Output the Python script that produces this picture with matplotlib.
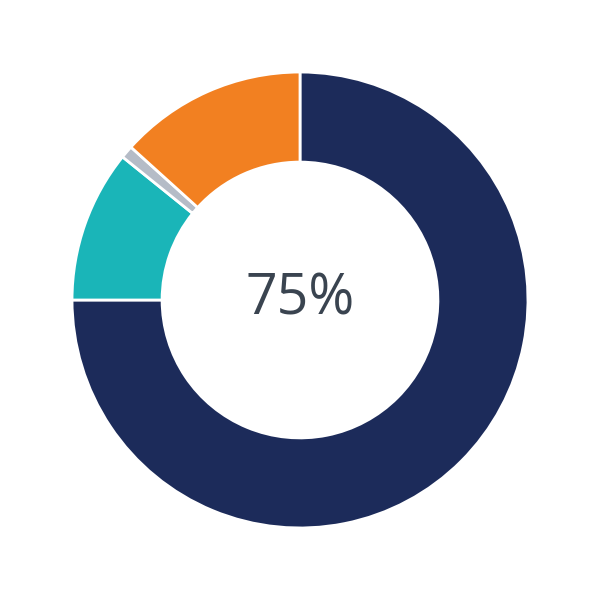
import matplotlib.pyplot as plt

labels = ["Navy", "Teal", "Grey", "Orange"]
values = [75, 10.8, 0.9, 13.3]
colors = ["#1c2b5a", "#1ab5b8", "#b5bcc7", "#f28021"]
center_label = "75%"

fig = plt.figure(figsize=(6, 6), dpi=100)
ax = fig.add_axes([0, 0, 1, 1])
ax.pie(values, colors=colors, startangle=90, counterclock=False,
       radius=1.0,
       wedgeprops=dict(width=0.395, edgecolor="white", linewidth=2))
ax.text(0, 0.0, center_label, ha="center", va="center",
        fontsize=40, color="#3a4450", family=["Open Sans", "DejaVu Sans"])
ax.set_xlim(-1.316, 1.316)
ax.set_ylim(-1.316, 1.316)
ax.set_aspect("equal")
ax.axis("off")
fig.savefig("out.png", dpi=100)
plt.close(fig)
